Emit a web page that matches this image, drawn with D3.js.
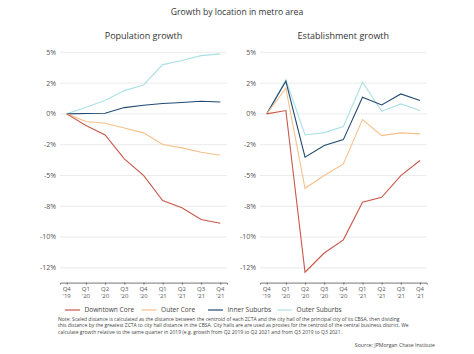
<!DOCTYPE html>
<html>
<head>
<meta charset="utf-8">
<script src="https://cdn.jsdelivr.net/npm/d3@7"></script>
<style>
  body { margin: 0; background: #fff; }
  svg { display: block; font-family: "Open Sans", "Noto Sans", sans-serif; }
</style>
</head>
<body>
<div id="chart"></div>
<script>
// Growth by location in metro area, two panels

const quarters = ["Q4 '19", "Q1 '20", "Q2 '20", "Q3 '20", "Q4 '20", "Q1 '21", "Q2 '21", "Q3 '21", "Q4 '21"];
const seriesNames = ["Downtown Core", "Outer Core", "Inner Suburbs", "Outer Suburbs"];
const seriesColors = ["#c9574b", "#f7c08a", "#234a72", "#ace0e4"];

// values in percent
const popDowntown = [0, -0.95, -1.71, -3.65, -5.0, -7.04, -7.63, -8.58, -8.88];
const popOuterCore = [0, -0.62, -0.76, -1.14, -1.54, -2.49, -2.76, -3.11, -3.36];
const popInner = [0, 0.03, 0.05, 0.51, 0.70, 0.84, 0.92, 1.03, 0.97];
const popOuterSub = [0, 0.54, 1.08, 1.89, 2.35, 4.0, 4.33, 4.73, 4.87];

const estDowntown = [0, 0.27, -12.86, -11.3, -10.23, -7.18, -6.77, -5.01, -3.79];
const estOuterCore = [0, 2.08, -6.04, -5.01, -4.06, -0.46, -1.76, -1.54, -1.62];
const estInner = [0, 2.65, -3.52, -2.57, -2.09, 1.35, 0.73, 1.62, 1.08];
const estOuterSub = [0, 2.78, -1.71, -1.52, -1.03, 2.57, 0.22, 0.81, 0.27];

const yTicks = [5, 2.5, 0, -2.5, -5, -7.5, -10, -12.5];
const yTickLabels = ["5%", "2%", "0%", "-2%", "-5%", "-8%", "-10%", "-12%"];

const noteLines = [
  "Note: Scaled distance is calculated as the distance between the centroid of each ZCTA and the city hall of the principal city of its CBSA, then dividing",
  "this distance by the greatest ZCTA to city hall distance in the CBSA. City halls are are used as proxies for the centroid of the central business district. We",
  "calculate growth relative to the same quarter in 2019 (e.g. growth from Q2 2019 to Q2 2021 and from Q3 2019 to Q3 2021."
];

const panels = [
  { title: "Population growth", left: 60, right: 227, data: [popDowntown, popOuterCore, popInner, popOuterSub] },
  { title: "Establishment growth", left: 260, right: 426.7, data: [estDowntown, estOuterCore, estInner, estOuterSub] }
];

const width = 474, height = 354;

const svg = d3.select('#chart')
  .append('svg')
  .attr('width', width)
  .attr('height', height);

svg.append('text')
  .attr('x', 237)
  .attr('y', 15)
  .attr('text-anchor', 'middle')
  .attr('font-size', 8.6)
  .attr('fill', '#333')
  .text('Growth by location in metro area');

const y = d3.scaleLinear()
  .domain([-13.7, 5])
  .range([282.6, 52.3]);

panels.forEach(p => {
  const x = d3.scalePoint()
    .domain(quarters)
    .range([p.left, p.right])
    .padding(0.35);

  const g = svg.append('g');

  g.append('text')
    .attr('x', (p.left + p.right) / 2)
    .attr('y', 39)
    .attr('text-anchor', 'middle')
    .attr('font-size', 9)
    .attr('fill', '#333')
    .text(p.title);

  // grid lines
  g.selectAll('.grid')
    .data(yTicks)
    .enter()
    .append('line')
    .attr('x1', p.left)
    .attr('x2', p.right)
    .attr('y1', d => y(d))
    .attr('y2', d => y(d))
    .attr('stroke', '#e6e6e6')
    .attr('stroke-width', 0.8);

  g.selectAll('.ylab')
    .data(yTicks)
    .enter()
    .append('text')
    .attr('x', p.left - 4)
    .attr('y', d => y(d))
    .attr('dy', '0.35em')
    .attr('text-anchor', 'end')
    .attr('font-size', 7)
    .attr('fill', '#555')
    .text((d, i) => yTickLabels[i]);

  // x axis
  const xAxis = g.append('g')
    .attr('transform', `translate(0,${y(-13.7)})`)
    .call(d3.axisBottom(x).tickSize(2).tickFormat(''));
  xAxis.select('.domain').attr('stroke', '#666').attr('stroke-width', 0.9);
  xAxis.selectAll('.tick line').attr('stroke', '#666');

  // two-line quarter labels
  quarters.forEach(q => {
    const parts = q.split(' ');
    parts.forEach((s, j) => {
      g.append('text')
        .attr('x', x(q))
        .attr('y', 291 + j * 7.4)
        .attr('text-anchor', 'middle')
        .attr('font-size', 6)
        .attr('fill', '#555')
        .text(s);
    });
  });

  const line = d3.line()
    .x((d, i) => x(quarters[i]))
    .y(d => y(d));

  // draw in reverse order so Downtown Core sits on top
  [3, 2, 1, 0].forEach(k => {
    g.append('path')
      .datum(p.data[k])
      .attr('d', line)
      .attr('fill', 'none')
      .attr('stroke', seriesColors[k])
      .attr('stroke-width', 1.1);
  });
});

// legend
const legendX = [65, 141.5, 208, 277];
const legend = svg.append('g');
seriesNames.forEach((name, i) => {
  legend.append('line')
    .attr('x1', legendX[i])
    .attr('x2', legendX[i] + 15)
    .attr('y1', 310)
    .attr('y2', 310)
    .attr('stroke', seriesColors[i])
    .attr('stroke-width', 1.2);
  legend.append('text')
    .attr('x', legendX[i] + 19.5)
    .attr('y', 310)
    .attr('dy', '0.35em')
    .attr('font-size', 6.6)
    .attr('fill', '#444')
    .text(name);
});

// note and source
svg.append('g')
  .selectAll('text')
  .data(noteLines)
  .enter()
  .append('text')
  .attr('x', 58)
  .attr('y', (d, i) => 321 + i * 6.3)
  .attr('font-size', 5)
  .attr('font-family', '"Liberation Sans Narrow", "Open Sans", sans-serif')
  .attr('fill', '#444')
  .text(d => d);

svg.append('text')
  .attr('x', 435)
  .attr('y', 347)
  .attr('text-anchor', 'end')
  .attr('font-size', 5.2)
  .attr('font-family', '"Liberation Sans Narrow", "Open Sans", sans-serif')
  .attr('fill', '#444')
  .text('Source: JPMorgan Chase Institute');
</script>
</body>
</html>
